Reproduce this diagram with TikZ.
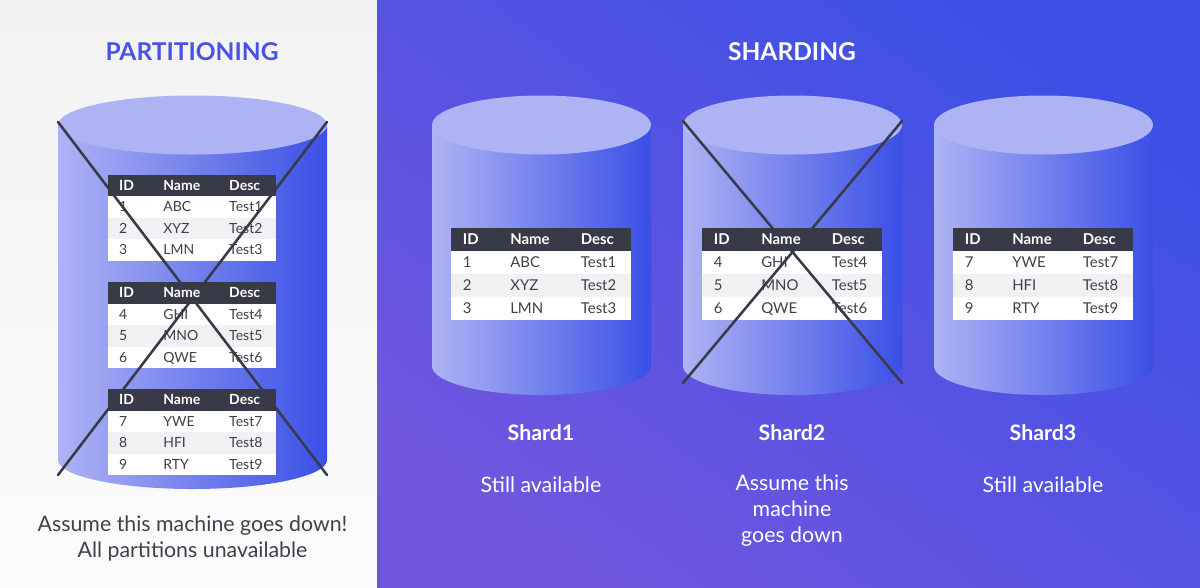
\documentclass[tikz,border=0pt]{standalone}
\usepackage{fontspec}
\setmainfont{Lato}
\definecolor{headdark}{HTML}{383A47}
\definecolor{inktext}{HTML}{3F404C}
\definecolor{rowgrey}{HTML}{F1F1F3}
\definecolor{titleblue}{HTML}{4A52E6}
\definecolor{cyllid}{HTML}{AEB3F4}
\definecolor{cylmid}{HTML}{6E7FEE}
\definecolor{cylright}{HTML}{3A50E6}
\definecolor{panelpurple}{HTML}{7056DF}
\definecolor{panelmid}{HTML}{5254E2}
\definecolor{panelblue}{HTML}{3C50E6}
\definecolor{greytop}{HTML}{F2F2F2}
\definecolor{greylow}{HTML}{FCFCFC}
\tikzset{
	cell/.style={anchor=base west,inner sep=0pt,text=inktext},
	headcell/.style={anchor=base west,inner sep=0pt,text=white},
	caption/.style={align=center,text=white,font=\fontsize{16}{19.5}\selectfont},
	shardname/.style={text=white,font=\fontsize{16}{19}\selectfont\bfseries},
	crossline/.style={line width=1.9pt,draw=headdark,line cap=round}
}
% name, x, y, width, row height, font size, rows
\newcommand{\tablerows}[7]{
	\fill[white] (#2,{#3+#5}) rectangle ({#2+#4},{#3+4*#5});
	\fill[rowgrey] (#2,{#3+2*#5}) rectangle ({#2+#4},{#3+3*#5});
	\foreach \rid/\rname/\rdesc [count=\i] in {#7}{
		\node[cell,font=\fontsize{#6}{#6}\selectfont] (#1id\i) at ({#2+.065*#4},{#3+(\i+.5)*#5+5}) {\rid};
		\node[cell,font=\fontsize{#6}{#6}\selectfont] (#1name\i) at ({#2+.328*#4},{#3+(\i+.5)*#5+5}) {\rname};
		\node[cell,font=\fontsize{#6}{#6}\selectfont] (#1desc\i) at ({#2+.72*#4},{#3+(\i+.5)*#5+5}) {\rdesc};
	}
}
% name, x, y, width, row height, font size
\newcommand{\tablehead}[6]{
	\fill[headdark] (#2,#3) rectangle ({#2+#4},{#3+#5});
	\node[headcell,font=\fontsize{#6}{#6}\selectfont\bfseries] (#1idh) at ({#2+.065*#4},{#3+.5*#5+5}) {ID};
	\node[headcell,font=\fontsize{#6}{#6}\selectfont\bfseries] (#1nameh) at ({#2+.328*#4},{#3+.5*#5+5}) {Name};
	\node[headcell,font=\fontsize{#6}{#6}\selectfont\bfseries] (#1desch) at ({#2+.72*#4},{#3+.5*#5+5}) {Desc};
}
% left x, right x, y of lower ellipse centre
\newcommand{\dbcyl}[3]{
	\shade[left color=cyllid,middle color=cylmid,right color=cylright] (#1,125) -- (#1,#3)
		arc (180:0:{(#2-#1)/2} and 29) -- (#2,125) -- cycle;
	\fill[cyllid] ({(#1+#2)/2},125) ellipse ({(#2-#1)/2} and 29.5);
}
\begin{document}
\begin{tikzpicture}[x=.75pt,y=-.75pt]
	\useasboundingbox (0,0) rectangle (1200,587);
	% backgrounds
	\shade[top color=greytop,bottom color=greylow] (0,0) rectangle (377,587);
	\shade[left color=panelpurple,middle color=panelmid,right color=panelblue,shading angle=144] (377,0) rectangle (1200,587);
	% titles
	\node[text=titleblue,font=\fontsize{18.4}{22}\selectfont\bfseries] (parttitle) at (192,52) {PARTITIONING};
	\node[text=white,font=\fontsize{18.4}{22}\selectfont\bfseries] (shardtitle) at (792,52) {SHARDING};
	% cylinders
	\dbcyl{58}{327}{460}
	\dbcyl{432}{651}{366}
	\dbcyl{683}{902}{366}
	\dbcyl{934}{1153}{366}
	% table bodies
	\tablerows{pa}{108}{174.5}{168}{21.5}{10.5}{1/ABC/Test1,2/XYZ/Test2,3/LMN/Test3}
	\tablerows{pb}{108}{282}{168}{21.5}{10.5}{4/GHI/Test4,5/MNO/Test5,6/QWE/Test6}
	\tablerows{pc}{108}{389}{168}{21.5}{10.5}{7/YWE/Test7,8/HFI/Test8,9/RTY/Test9}
	\tablerows{sa}{451}{227.5}{180}{23}{11.2}{1/ABC/Test1,2/XYZ/Test2,3/LMN/Test3}
	\tablerows{sb}{702}{227.5}{180}{23}{11.2}{4/GHI/Test4,5/MNO/Test5,6/QWE/Test6}
	\tablerows{sc}{953}{227.5}{180}{23}{11.2}{7/YWE/Test7,8/HFI/Test8,9/RTY/Test9}
	% crosses
	\coordinate (pul) at (58,122);
	\coordinate (pur) at (327,122);
	\coordinate (pll) at (58,475);
	\coordinate (plr) at (327,475);
	\coordinate (sul) at (683,121);
	\coordinate (sur) at (902,121);
	\coordinate (sll) at (683,383);
	\coordinate (slr) at (902,383);
	\draw[crossline] (pul)--(plr);
	\draw[crossline] (pur)--(pll);
	\draw[crossline] (sul)--(slr);
	\draw[crossline] (sur)--(sll);
	% table heads
	\tablehead{pa}{108}{174.5}{168}{21.5}{10.5}
	\tablehead{pb}{108}{282}{168}{21.5}{10.5}
	\tablehead{pc}{108}{389}{168}{21.5}{10.5}
	\tablehead{sa}{451}{227.5}{180}{23}{11.2}
	\tablehead{sb}{702}{227.5}{180}{23}{11.2}
	\tablehead{sc}{953}{227.5}{180}{23}{11.2}
	% captions
	\node[caption,text=inktext] (partnote) at (192.5,538) {Assume this machine goes down!\\All partitions unavailable};
	\node[shardname] (shardone) at (541,433) {Shard1};
	\node[shardname] (shardtwo) at (792,433) {Shard2};
	\node[shardname] (shardthree) at (1043,433) {Shard3};
	\node[caption] (noteone) at (541,485) {Still available};
	\node[caption] (notetwo) at (792,511) {Assume this\\machine\\goes down};
	\node[caption] (notethree) at (1043,485) {Still available};
\end{tikzpicture}
\end{document}
